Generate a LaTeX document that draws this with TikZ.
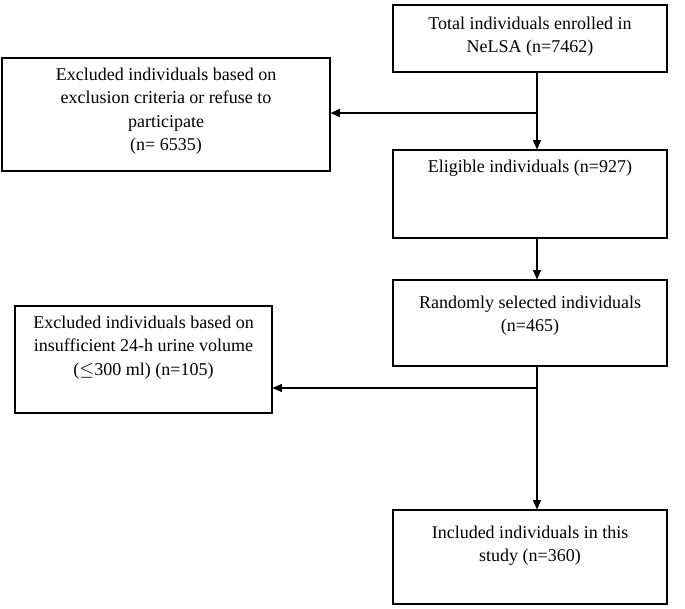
\documentclass[tikz,border=0pt]{standalone}
\usepackage{fontspec}
\setmainfont{Liberation Serif}
\usetikzlibrary{arrows.meta}
\tikzset{
  box/.style 2 args={draw, thick, minimum width=#1*0.75pt, minimum height=#2*0.75pt, inner sep=0pt},
  txt/.style={anchor=north, align=center, inner sep=0pt, font=\fontsize{13.5}{17.3}\selectfont},
  arr/.style={thick, -{Triangle[length=7pt,width=6pt]}}
}
\begin{document}
\begin{tikzpicture}[x=0.75pt,y=-0.75pt]
\useasboundingbox (0,0) rectangle (685,609);
% boxes
\node[box={274}{67}] (tot) at (530,38.5) {};
\node[box={328}{113}] (exa) at (166,114.5) {};
\node[box={274}{88}] (elig) at (530,194) {};
\node[box={274}{86}] (rand) at (530,323) {};
\node[box={257}{107}] (exb) at (143.5,359.5) {};
\node[box={274}{94}] (incl) at (530,557) {};
% texts
\node[txt] (ttot) at ([yshift=-9pt]tot.north) {Total individuals enrolled in\\ NeLSA (n=7462)};
\node[txt] (texa) at ([yshift=-8pt]exa.north) {Excluded individuals based on\\ exclusion criteria or refuse to\\ participate\\ (n= 6535)};
\node[txt] (telig) at ([yshift=-8pt]elig.north) {Eligible individuals (n=927)};
\node[txt] (trand) at ([yshift=-12pt]rand.north) {Randomly selected individuals\\ (n=465)};
\node[txt] (texb) at ([yshift=-8pt]exb.north) {Excluded individuals based on\\ insufficient 24-h urine volume\\ ($\leq$300 ml) (n=105)};
\node[txt] (tincl) at ([yshift=-12pt]incl.north) {Included individuals in this\\ study (n=360)};
% connectors
\coordinate (ja) at (537,113);
\coordinate (jb) at (537,388);
\draw[arr] ([xshift=5.25pt]tot.south) -- ([xshift=5.25pt]elig.north);
\draw[arr] (ja) -- (ja -| exa.east);
\draw[arr] ([xshift=5.25pt]elig.south) -- ([xshift=5.25pt]rand.north);
\draw[arr] ([xshift=5.25pt]rand.south) -- ([xshift=5.25pt]incl.north);
\draw[arr] (jb) -- (jb -| exb.east);
\end{tikzpicture}
\end{document}
